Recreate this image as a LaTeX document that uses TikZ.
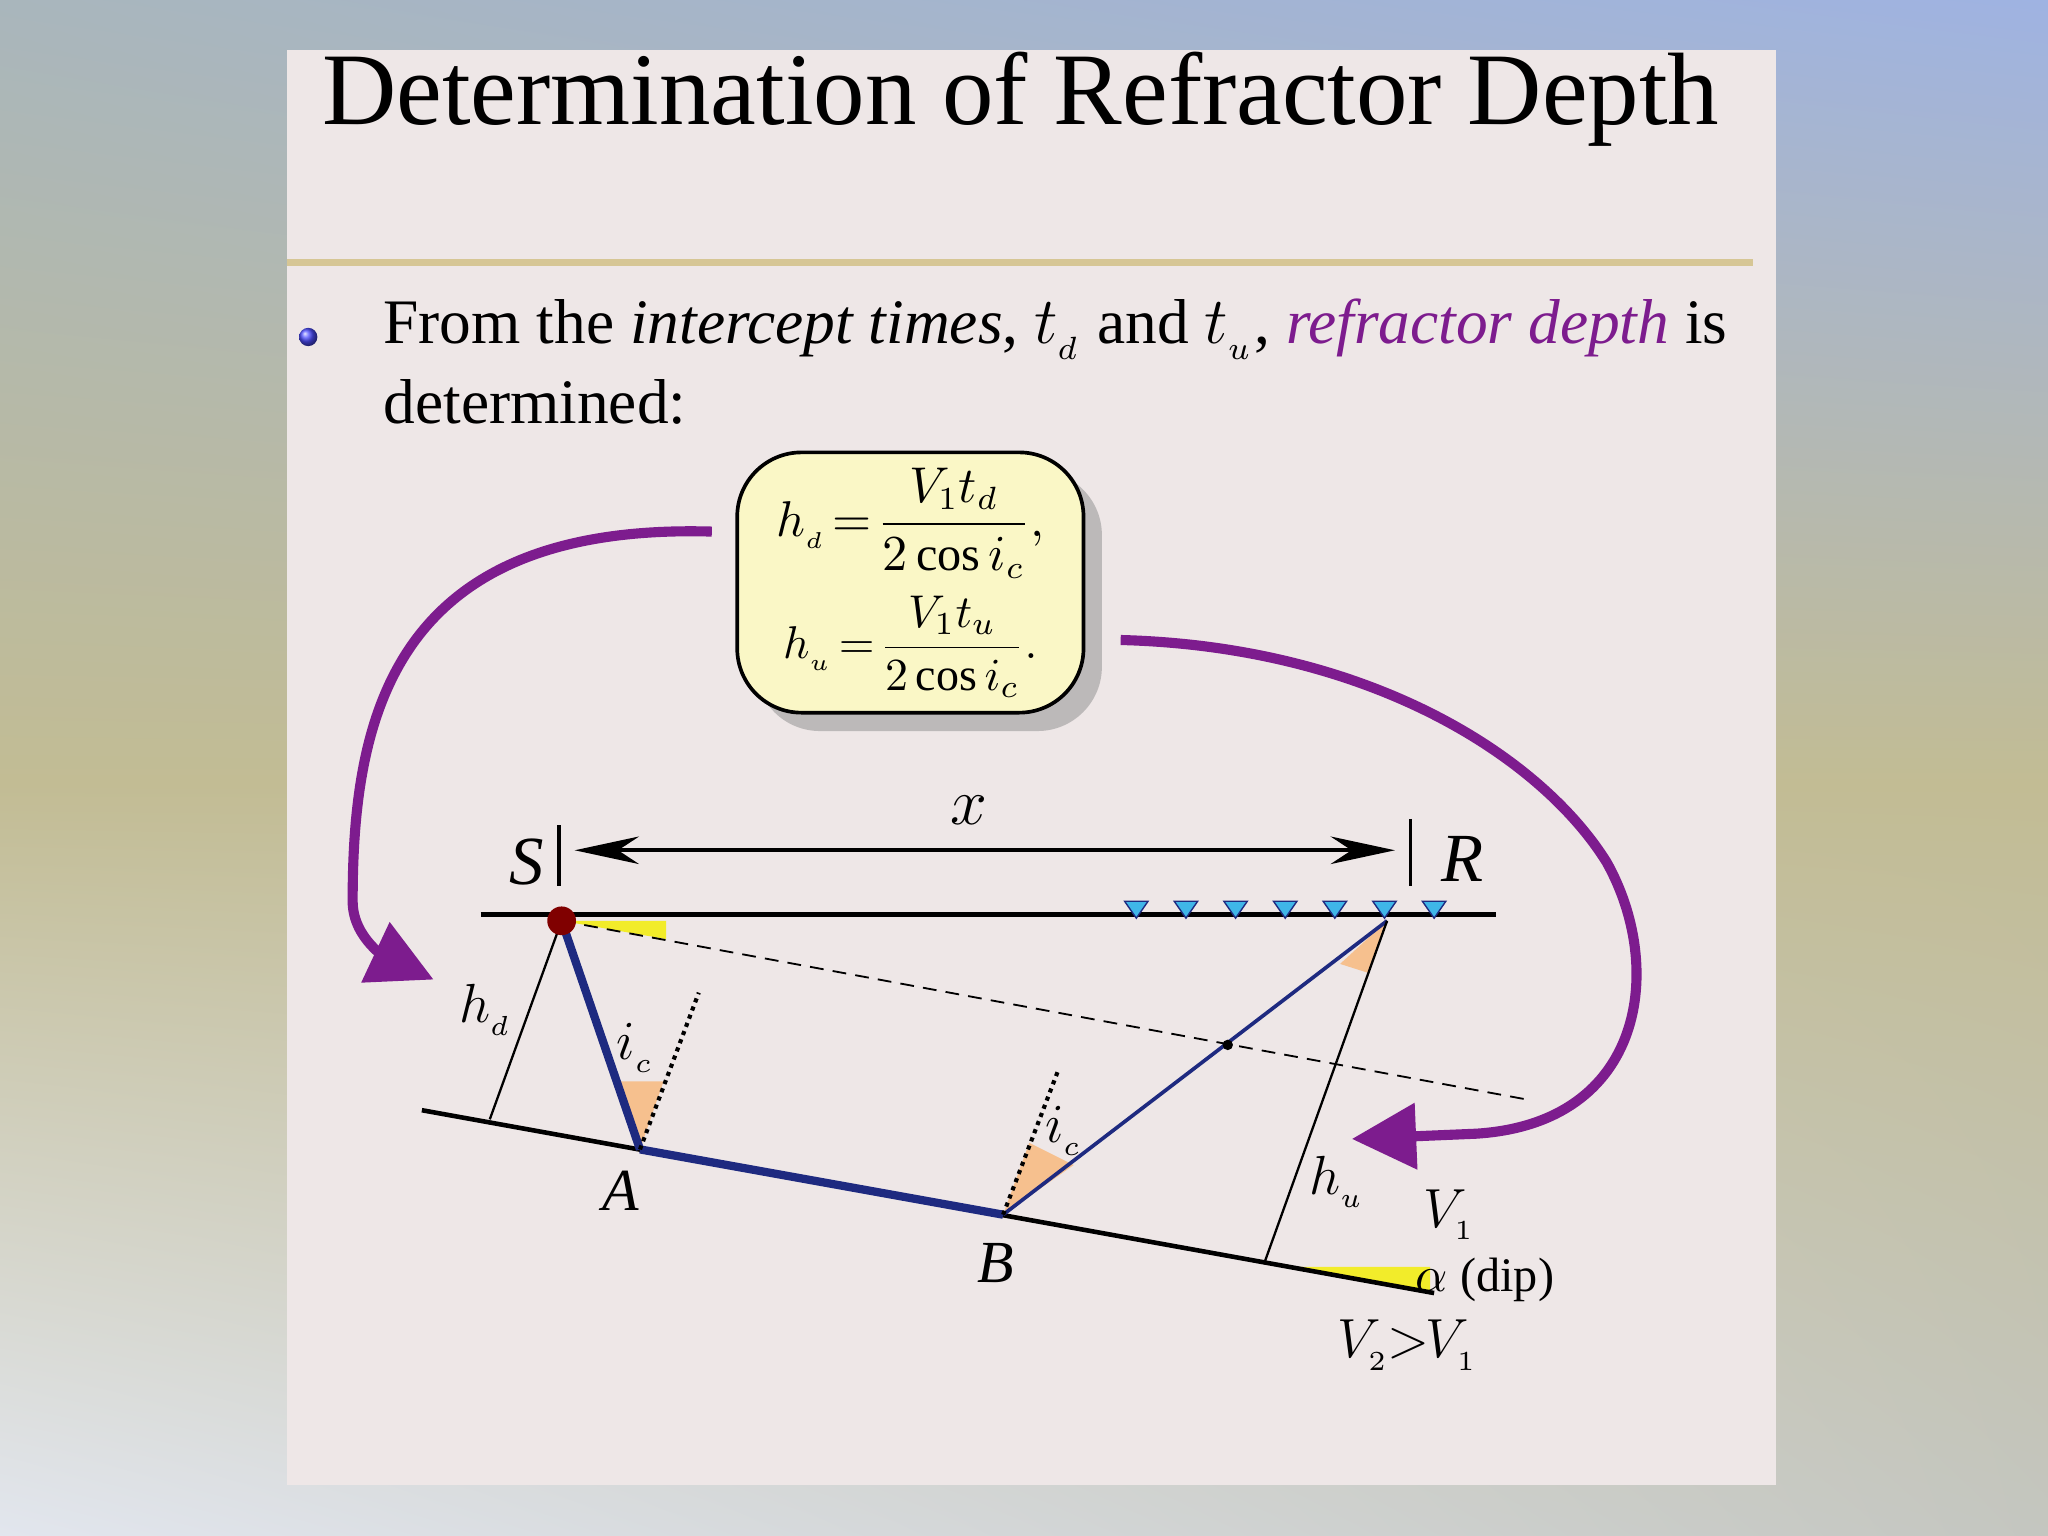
\documentclass[tikz,border=0pt]{standalone}
\usepackage{amsmath}
\usepackage{fontspec}
\setmainfont{Liberation Serif}
\usetikzlibrary{arrows.meta,shadows,shadings}
\definecolor{panel}{HTML}{EEE7E7}
\definecolor{rule}{HTML}{D6C695}
\definecolor{purp}{HTML}{7D1C8E}
\definecolor{navy}{HTML}{1E2A80}
\definecolor{boxy}{HTML}{FAF7C6}
\definecolor{orng}{HTML}{F6C08E}
\definecolor{yel}{HTML}{F2EC2A}
\definecolor{cyanr}{HTML}{3FB6E8}
\definecolor{bgul}{HTML}{A9B6BC}
\definecolor{bgur}{HTML}{9FB3E2}
\definecolor{bgll}{HTML}{E2E6EE}
\definecolor{bglr}{HTML}{C4C6C0}
\definecolor{bgmid}{HTML}{C2BC94}
\tikzset{
 parrow/.style={draw=purp,line width=2.2pt,-{Triangle[length=14pt,width=14pt]}},
 lbl/.style={font=\fontsize{13}{13}\selectfont\itshape},
 thin/.style={draw=black,line width=0.5pt},
 rcv/.style={fill=cyanr,draw=navy,line width=0.3pt}
}
\begin{document}
\begin{tikzpicture}[x=0.01cm,y=-0.01cm]
\useasboundingbox (0,0) rectangle (1568,1176);
\shade[upper left=bgul,upper right=bgur,lower left=bgmid,lower right=bgmid] (0,0) rectangle (1568,600);
\shade[upper left=bgmid,upper right=bgmid,lower left=bgll,lower right=bglr] (0,600) rectangle (1568,1176);
\fill[panel] (220,38) rectangle (1360,1137);
\draw[rule,line width=1.5pt] (220,201) -- (1342,201);
\node[anchor=west,inner sep=0pt,font=\fontsize{22.4}{22.4}\selectfont] (title) at (246,76) {Determination of Refractor Depth};
\shade[ball color=blue!70] (236,258) circle (7);
\node[anchor=west,inner sep=0pt,font=\fontsize{13.8}{13.8}\selectfont] (l1) at (293,252) {From the \textit{intercept times}, $t_{_d}$ and $t_{_u}$, \textcolor{purp}{\textit{refractor depth}} is};
\node[anchor=west,inner sep=0pt,font=\fontsize{13.8}{13.8}\selectfont] (l2) at (293,308) {determined:};
% formula box
\node[draw=black,line width=0.8pt,fill=boxy,rounded corners=14pt,drop shadow={shadow xshift=4pt,shadow yshift=-4pt,fill=black!45},
 minimum width=2.65cm,minimum height=1.83cm,align=center] (box) at (697,446)
 {\fontsize{10.5}{12}\selectfont $h_{_d}\!=\!\dfrac{V_1t_d}{2\cos i_c},$\\[3pt] $h_{_u}\!=\!\dfrac{V_1t_u}{2\cos i_c}.$};
% coordinates
\coordinate (S) at (430,705);
\coordinate (R) at (1062,705);
\coordinate (A) at (490,880);
\coordinate (B) at (768,930);
\coordinate (rl) at (323,850);
\coordinate (rr) at (1098,990);
% wedges
\fill[yel] (S) -- (510,705) -- (510,719) -- cycle;
\fill[yel] (985,970) -- (1095,970) -- (1095,989) -- cycle;
\fill[orng] (A) -- (472,828) -- (508,828) -- cycle;
\fill[orng] (B) -- (788,875) -- (822,892) -- cycle;
\fill[orng] (R) -- (1026,738) -- (1048,745) -- cycle;
% surface
\draw[thin,line width=1.2pt] (368,700) -- (1145,700);
\foreach \x in {870,908,946,984,1022,1060,1098}
  \path[rcv] (\x-9,690) -- (\x+9,690) -- (\x,703) -- cycle;
% refractor
\draw[thin,line width=1pt] (rl) -- (rr);
\draw[navy,line width=1.8pt] (A) -- (B);
\draw[navy,line width=1.8pt] (S) -- (A);
\draw[navy,line width=0.8pt] (B) -- (R);
\draw[thin] (S) -- (375,857);
\draw[thin] (R) -- (968,967);
\draw[densely dotted,line width=0.9pt] (A) -- (535,760);
\draw[densely dotted,line width=0.9pt] (B) -- (810,820);
\draw[densely dashed,line width=0.4pt] (S) -- (1170,842);
\fill (940,800) circle (4);
\fill[red!50!black] (S) circle (11);
% x arrow
\draw[thin,line width=0.8pt] (428,632) -- (428,678);
\draw[thin,line width=0.8pt] (1080,627) -- (1080,678);
\coordinate (xa) at (440,651); \coordinate (xb) at (1068,651);
\draw[line width=0.8pt,{Stealth[length=14pt,width=6pt]}-{Stealth[length=14pt,width=6pt]}] (xa) -- (xb);
\node[lbl,font=\fontsize{15}{15}\selectfont] (xl) at (742,620) {$x$};
\node[lbl,font=\fontsize{15}{15}\selectfont\itshape] (Sl) at (403,660) {S};
\node[lbl,font=\fontsize{15}{15}\selectfont\itshape] (Rl) at (1120,658) {R};
\node[lbl] (Al) at (475,912) {A};
\node[lbl] (Bl) at (762,967) {B};
\node[lbl] (hd) at (372,773) {$h_{_d}$};
\node[lbl] (ic1) at (487,802) {$i_{_c}$};
\node[lbl] (ic2) at (815,866) {$i_{_c}$};
\node[lbl] (hu) at (1024,905) {$h_{_u}$};
\node[lbl] (v1) at (1110,930) {$V_{_1}$};
\node[font=\fontsize{10.5}{11}\selectfont] (dip) at (1137,980) {$\alpha$ (dip)};
\node[lbl] (v2) at (1078,1030) {$V_{_2}\!\!>\!\!V_{_1}$};
% purple arrows
\coordinate (p1) at (545,407);
\coordinate (p1e) at (332,750);
\draw[parrow] (p1) .. controls (300,400) and (270,550) .. (270,690) .. controls (270,720) and (300,735) .. (p1e);
\coordinate (p2) at (858,490);
\coordinate (p2e) at (1035,872);
\draw[parrow] (p2) .. controls (1050,495) and (1180,580) .. (1230,660) .. controls (1275,740) and (1260,860) .. (1130,868) -- (p2e);
\end{tikzpicture}
\end{document}
